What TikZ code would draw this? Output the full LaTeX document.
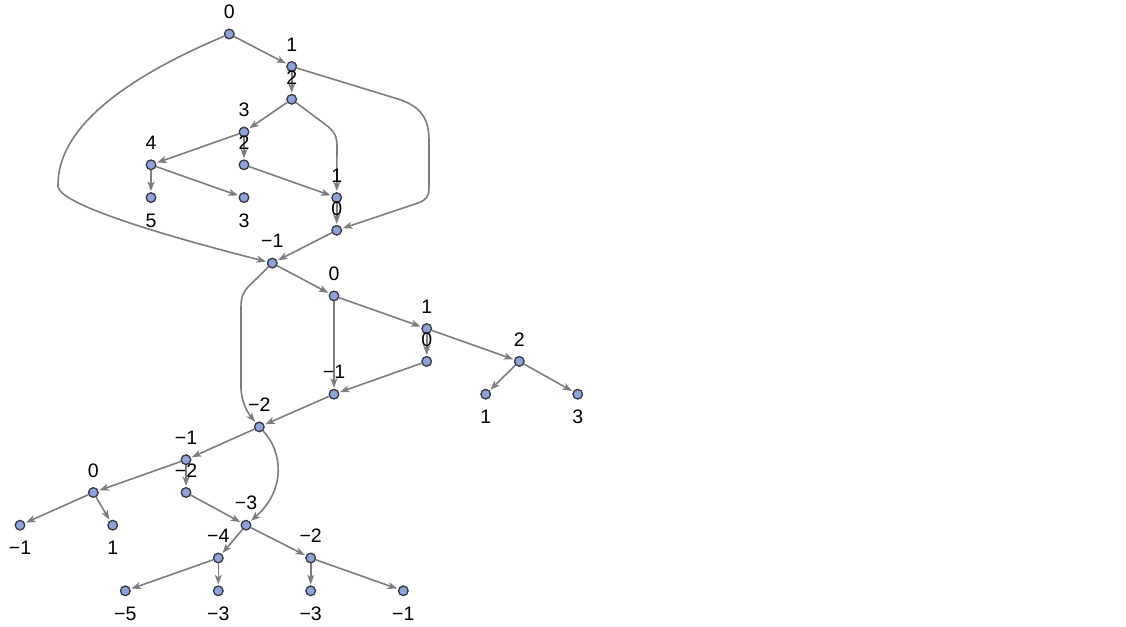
\documentclass[tikz,border=0pt]{standalone}
\usepackage{fontspec}
\setmainfont{Liberation Sans}
\usetikzlibrary{arrows.meta}
\definecolor{vfill}{RGB}{143,163,219}
\definecolor{vline}{RGB}{55,55,65}
\definecolor{egray}{RGB}{125,125,125}
\begin{document}
\begin{tikzpicture}[x=1pt,y=-1pt,
  vtx/.style={circle,inner sep=0pt,minimum size=10pt,fill=vfill,draw=vline,line width=0.9pt},
  lbl/.style={inner sep=0pt,font=\fontsize{19.5}{22}\selectfont},
  edge/.style={draw=egray,line width=1.6pt,-{Stealth[length=9.5pt,width=7pt,inset=2.5pt]},shorten >=1pt}]
\useasboundingbox (0,0) rectangle (1126,626);
% vertices
\node[vtx] (A)  at (229.3,34)   {};
\node[vtx] (B)  at (291.7,66.5) {};
\node[vtx] (C)  at (291.7,99.3) {};
\node[vtx] (D)  at (244,132)    {};
\node[vtx] (E)  at (151,164.8)  {};
\node[vtx] (F)  at (244,164.8)  {};
\node[vtx] (G)  at (151,197.6)  {};
\node[vtx] (H)  at (244,197.6)  {};
\node[vtx] (I)  at (336.7,197.6) {};
\node[vtx] (J)  at (336.7,230.3) {};
\node[vtx] (K)  at (272.3,263.1) {};
\node[vtx] (L)  at (334,295.9)  {};
\node[vtx] (M)  at (426.7,328.6) {};
\node[vtx] (N)  at (426.7,361.4) {};
\node[vtx] (O)  at (519.3,361.4) {};
\node[vtx] (P)  at (485.7,394.2) {};
\node[vtx] (Q)  at (577.7,394.2) {};
\node[vtx] (R)  at (334,394.2)  {};
\node[vtx] (S)  at (259.3,426.9) {};
\node[vtx] (T)  at (186,459.7)  {};
\node[vtx] (U)  at (93.3,492.5) {};
\node[vtx] (V)  at (186,492.5)  {};
\node[vtx] (W)  at (20,525.2)   {};
\node[vtx] (X)  at (112.7,525.2) {};
\node[vtx] (Y)  at (246,525.2)  {};
\node[vtx] (Z)  at (218.3,558)  {};
\node[vtx] (AA) at (310.7,558)  {};
\node[vtx] (AB) at (125.3,590.8) {};
\node[vtx] (AC) at (218.3,590.8) {};
\node[vtx] (AD) at (310.7,590.8) {};
\node[vtx] (AE) at (403.3,590.8) {};
% edges
\draw[edge] (A) -- (B);
\draw[edge] (B) -- (C);
\draw[edge] (C) -- (D);
\draw[edge] (D) -- (E);
\draw[edge] (D) -- (F);
\draw[edge] (E) -- (G);
\draw[edge] (E) -- (H);
\draw[edge] (F) -- (I);
\draw[edge] (I) -- (J);
\draw[edge] (J) -- (K);
\draw[edge] (K) -- (L);
\draw[edge] (L) -- (M);
\draw[edge] (L) -- (R);
\draw[edge] (M) -- (N);
\draw[edge] (M) -- (O);
\draw[edge] (N) -- (R);
\draw[edge] (O) -- (P);
\draw[edge] (O) -- (Q);
\draw[edge] (R) -- (S);
\draw[edge] (S) -- (T);
\draw[edge] (T) -- (U);
\draw[edge] (T) -- (V);
\draw[edge] (U) -- (W);
\draw[edge] (U) -- (X);
\draw[edge] (V) -- (Y);
\draw[edge] (Y) -- (Z);
\draw[edge] (Y) -- (AA);
\draw[edge] (Z) -- (AB);
\draw[edge] (Z) -- (AC);
\draw[edge] (AA) -- (AD);
\draw[edge] (AA) -- (AE);
% curved edges
\draw[edge] (A) .. controls (125,78) and (57,128) .. (58,186)
  .. controls (58,203) and (150,232) .. (K);
\draw[edge] (B) -- (398,99) .. controls (420,106) and (429,118) .. (429,140)
  -- (429,188) .. controls (429,197) and (426,200) .. (418,203) -- (J);
\draw[edge] (C) -- (326,125) .. controls (334,131) and (337,136) .. (337,146) -- (I);
\draw[edge] (K) -- (249,286) .. controls (243,292) and (241,297) .. (241,308)
  -- (241,388) .. controls (241,400) and (247,412) .. (S);
\draw[edge] (S) .. controls (283,452) and (286,490) .. (Y);
% redraw vertices on top of edges
\foreach \n in {A,B,C,D,E,F,G,H,I,J,K,L,M,N,O,P,Q,R,S,T,U,V,W,X,Y,Z,AA,AB,AC,AD,AE}
  \draw[fill=vfill,draw=vline,line width=0.9pt] (\n.center) circle[radius=4.6pt];
% labels
\node[lbl] (lA)  at (229.3,12)    {0};
\node[lbl] (lB)  at (291.7,44.5)  {1};
\node[lbl] (lC)  at (291.7,77.3)  {2};
\node[lbl] (lD)  at (244,110)     {3};
\node[lbl] (lE)  at (151,142.8)   {4};
\node[lbl] (lF)  at (244,142.8)   {2};
\node[lbl] (lG)  at (151,220.6)   {5};
\node[lbl] (lH)  at (244,220.6)   {3};
\node[lbl] (lI)  at (336.7,175.6) {1};
\node[lbl] (lJ)  at (336.7,208.3) {0};
\node[lbl] (lK)  at (272.3,241.1) {−1};
\node[lbl] (lL)  at (334,273.9)   {0};
\node[lbl] (lM)  at (426.7,306.6) {1};
\node[lbl] (lN)  at (426.7,339.4) {0};
\node[lbl] (lO)  at (519.3,339.4) {2};
\node[lbl] (lP)  at (485.7,417.2) {1};
\node[lbl] (lQ)  at (577.7,417.2) {3};
\node[lbl] (lR)  at (334,372.2)   {−1};
\node[lbl] (lS)  at (259.3,404.9) {−2};
\node[lbl] (lT)  at (186,437.7)   {−1};
\node[lbl] (lU)  at (93.3,470.5)  {0};
\node[lbl] (lV)  at (186,470.5)   {−2};
\node[lbl] (lW)  at (20,548.2)    {−1};
\node[lbl] (lX)  at (112.7,548.2) {1};
\node[lbl] (lY)  at (246,503.2)   {−3};
\node[lbl] (lZ)  at (218.3,536)   {−4};
\node[lbl] (lAA) at (310.7,536)   {−2};
\node[lbl] (lAB) at (125.3,613.8) {−5};
\node[lbl] (lAC) at (218.3,613.8) {−3};
\node[lbl] (lAD) at (310.7,613.8) {−3};
\node[lbl] (lAE) at (403.3,613.8) {−1};
\end{tikzpicture}
\end{document}
